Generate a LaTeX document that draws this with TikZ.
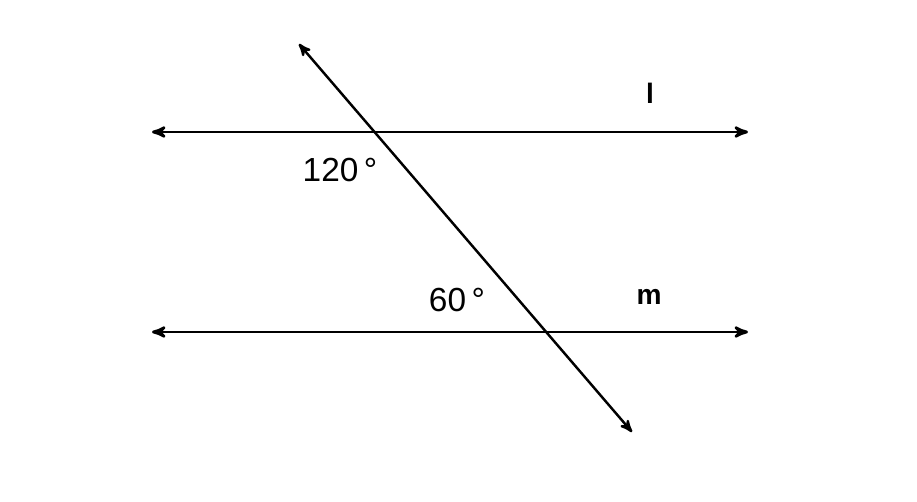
\documentclass[tikz,border=0pt]{standalone}
\usepackage{fontspec}
\setmainfont{Liberation Sans}
\usetikzlibrary{arrows}
\begin{document}
\begin{tikzpicture}[x=0.02cm,y=-0.02cm]
\useasboundingbox (0,0) rectangle (917,502);
\tikzset{lbl/.style={font=\fontsize{19}{22}\selectfont, inner sep=0}}
\tikzset{linelbl/.style={font=\fontsize{16}{19}\selectfont\bfseries, inner sep=0}}
\coordinate (lA) at (152,132);
\coordinate (lB) at (748,132);
\coordinate (mA) at (152,332);
\coordinate (mB) at (748,332);
\coordinate (tA) at (299,44);
\coordinate (tB) at (632,432);
\draw[black, line width=1.6pt, <->, >=stealth'] (lA)--(lB);
\draw[black, line width=1.6pt, <->, >=stealth'] (mA)--(mB);
\draw[black, line width=1.4pt, <->, >=stealth'] (tA)--(tB);
\node[linelbl] (lname) at (650,93) {l};
\node[linelbl] (mname) at (649,297) {m};
\node[lbl] (big) at (340,170) {120\,°};
\node[lbl] (small) at (457,300) {60\,°};
\end{tikzpicture}
\end{document}
